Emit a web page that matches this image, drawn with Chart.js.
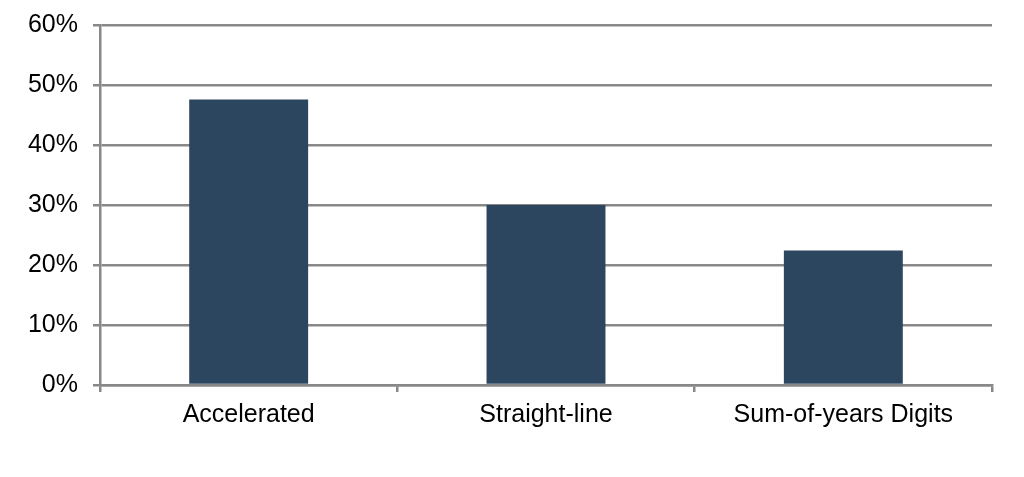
<!DOCTYPE html>
<html>
<head>
<meta charset="utf-8">
<script src="https://cdn.jsdelivr.net/npm/chart.js@4/dist/chart.umd.min.js"></script>
<style>
  html, body { margin: 0; padding: 0; background: #fff; }
  #wrap { width: 1024px; height: 477px; }
</style>
</head>
<body>
<div id="wrap"><canvas id="c"></canvas></div>
<script>
// values
const categories = ['Accelerated', 'Straight-line', 'Sum-of-years Digits'];
const shares = [47.6, 30.0, 22.4];
const yTicks = [0, 10, 20, 30, 40, 50, 60];

const gridGray = '#888888';
const barColor = '#2d4660';

Chart.defaults.font.family = '"Liberation Sans", Arial, sans-serif';
Chart.defaults.font.size = 25;
Chart.defaults.color = '#000';

const ctx = document.getElementById('c').getContext('2d');
new Chart(ctx, {
    type: 'bar',
    data: {
        labels: categories,
        datasets: [{
            data: shares,
            backgroundColor: barColor,
            borderWidth: 0,
            categoryPercentage: 1,
            barPercentage: 0.4
        }]
    },
    options: {
        responsive: true,
        maintainAspectRatio: false,
        animation: false,
        layout: { padding: { top: 25, right: 32, left: 0, bottom: 0 } },
        plugins: {
            legend: { display: false },
            tooltip: { enabled: false }
        },
        scales: {
            x: {
                offset: true,
                afterFit: (s) => { s.height = 92; s.paddingLeft = 0; s.paddingRight = 0; },
                grid: {
                    offset: true,
                    drawOnChartArea: false,
                    color: gridGray,
                    lineWidth: 2.5,
                    tickLength: 7
                },
                border: { color: gridGray, width: 2.5 },
                ticks: { padding: 8, color: '#000', maxRotation: 0 }
            },
            y: {
                min: 0,
                max: 60,
                afterFit: (s) => { s.width = 100; s.paddingTop = 0; s.paddingBottom = 0; },
                afterBuildTicks: (s) => { s.ticks = yTicks.map(v => ({ value: v })); },
                grid: {
                    color: gridGray,
                    lineWidth: 2.5,
                    tickLength: 7
                },
                border: { color: gridGray, width: 2.5 },
                ticks: {
                    padding: 15,
                    color: '#000',
                    callback: (v) => v + '%'
                }
            }
        }
    }
});
</script>
</body>
</html>
